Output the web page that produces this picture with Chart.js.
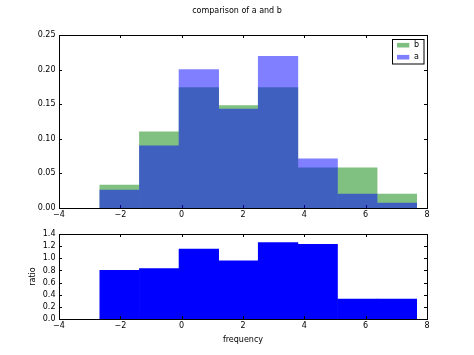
<!DOCTYPE html>
<html>
<head>
<meta charset="utf-8">
<script src="https://cdn.jsdelivr.net/npm/chart.js@4/dist/chart.umd.min.js"></script>
<style>
  html, body { margin: 0; padding: 0; background: #fff; }
  #wrap { position: relative; width: 474px; height: 355px; overflow: hidden; }
  canvas { position: absolute; left: 0; }
  #c1 { top: 0; }
  #c1a { top: 0; opacity: 0.5; pointer-events: none; }
  #c2 { top: 225px; }
</style>
</head>
<body>
<div id="wrap">
  <canvas id="c1" width="474" height="225"></canvas>
  <canvas id="c1a" width="474" height="225"></canvas>
  <canvas id="c2" width="474" height="130"></canvas>
</div>
<script>
// ---- data ----
const chartTitle = 'comparison of a and b';
const binEdges = [-2.669, -1.377, -0.086, 1.206, 2.497, 3.789, 5.081, 6.372, 7.664];
const seriesA = [0.026, 0.090, 0.200, 0.143, 0.219, 0.071, 0.020, 0.007];
const seriesB = [0.033, 0.110, 0.174, 0.148, 0.174, 0.058, 0.058, 0.020];
const ratioValues = [0.80, 0.83, 1.15, 0.96, 1.26, 1.23, 0.33, 0.33];
const xLabel = 'frequency';
const ratioLabel = 'ratio';
const xTickValues = [-4, -2, 0, 2, 4, 6, 8];
const yTickValuesTop = [0, 0.05, 0.10, 0.15, 0.20, 0.25];
const yTickValuesRatio = [0, 0.2, 0.4, 0.6, 0.8, 1.0, 1.2, 1.4];

// ---- helpers ----
const FONT = 'DejaVu Sans';
const binCenters = binEdges.slice(0, -1).map((e, i) => (e + binEdges[i + 1]) / 2);
const toPoints = vals => vals.map((v, i) => ({ x: binCenters[i], y: v }));
const fmtNum = (v, d) => {
  const s = Math.abs(v).toFixed(d);
  return (v < -1e-9 ? '\u2212' : '') + s;
};
// colours: alpha 0.5 green over white, and pure blue shown through a 50% opacity layer
const GREEN_HALF = 'rgb(128,192,128)';
const BLUE_HALF = 'rgba(0,0,255,0.5)';

const TICK_LEN = 3;
const framePlugin = {
  id: 'frameTicks',
  afterDatasetsDraw(chart) {
    const { ctx, chartArea: { left, right, top, bottom }, scales: { x, y } } = chart;
    ctx.save();
    ctx.strokeStyle = '#000';
    ctx.lineWidth = 1;
    ctx.beginPath();
    x.ticks.forEach(t => {
      const px = Math.round(x.getPixelForValue(t.value)) + 0.5;
      ctx.moveTo(px, bottom); ctx.lineTo(px, bottom - TICK_LEN);
      ctx.moveTo(px, top); ctx.lineTo(px, top + TICK_LEN);
    });
    y.ticks.forEach(t => {
      const py = Math.round(y.getPixelForValue(t.value)) + 0.5;
      ctx.moveTo(left, py); ctx.lineTo(left + TICK_LEN, py);
      ctx.moveTo(right, py); ctx.lineTo(right - TICK_LEN, py);
    });
    ctx.stroke();
    ctx.strokeRect(Math.round(left) + 0.5, Math.round(top) + 0.5,
                   Math.round(right) - Math.round(left), Math.round(bottom) - Math.round(top));
    ctx.restore();
  }
};

const titlePlugin = {
  id: 'figTitle',
  afterDraw(chart) {
    const ctx = chart.ctx;
    ctx.save();
    ctx.fillStyle = '#000';
    ctx.font = '8px "' + FONT + '"';
    ctx.textAlign = 'center';
    ctx.textBaseline = 'middle';
    ctx.fillText(chartTitle, 237, 11);
    ctx.restore();
  }
};

const legendPlugin = {
  id: 'boxLegend',
  afterDraw(chart) {
    const ctx = chart.ctx;
    const ds = chart.data.datasets;
    ctx.save();
    ctx.fillStyle = '#fff';
    ctx.fillRect(393, 40, 31, 24);
    ctx.strokeStyle = '#000';
    ctx.lineWidth = 1;
    ctx.strokeRect(392.5, 39.5, 31.5, 24.5);
    ctx.font = '8px "' + FONT + '"';
    ctx.textAlign = 'left';
    ctx.textBaseline = 'middle';
    ds.forEach((d, i) => {
      const yc = 45.2 + i * 12;
      ctx.fillStyle = d.legendColor;
      ctx.fillRect(397, yc - 2.3, 12.3, 4.6);
      ctx.fillStyle = '#000';
      ctx.fillText(d.label, 414, yc);
    });
    ctx.restore();
  }
};

const tickFont = { family: FONT, size: 8 };
const setTicks = vals => s => { s.ticks = vals.map(v => ({ value: v })); };

function topOptions(showText) {
  const col = showText ? '#000' : 'rgba(0,0,0,0)';
  return {
    responsive: false,
    devicePixelRatio: 1,
    animation: false,
    layout: { padding: { left: 0, right: 47, top: 35, bottom: 0 } },
    datasets: { bar: { grouped: false, barPercentage: 1, categoryPercentage: 1, borderWidth: 0 } },
    plugins: { legend: { display: false }, title: { display: false }, tooltip: { enabled: false } },
    scales: {
      x: {
        type: 'linear', min: -4, max: 8, offset: false,
        afterBuildTicks: setTicks(xTickValues),
        ticks: { font: tickFont, color: col, padding: 2, maxRotation: 0, autoSkip: false,
                 callback: v => fmtNum(v, 0) },
        grid: { display: false, drawTicks: false, offset: false },
        border: { display: false },
        afterFit: s => { s.height = 17; }
      },
      y: {
        min: 0, max: 0.25,
        afterBuildTicks: setTicks(yTickValuesTop),
        ticks: { font: tickFont, color: col, padding: 3.5, autoSkip: false,
                 callback: v => fmtNum(v, 2) },
        grid: { display: false, drawTicks: false },
        border: { display: false },
        afterFit: s => { s.width = 59; }
      }
    }
  };
}

// ---- top histogram: base layer (axes, b, legend, title) ----
new Chart(document.getElementById('c1'), {
  type: 'bar',
  data: {
    datasets: [
      { label: 'b', data: toPoints(seriesB), backgroundColor: GREEN_HALF, legendColor: 'rgba(0,128,0,0.5)' },
      { label: 'a', data: toPoints(seriesA), backgroundColor: '#0000ff', legendColor: BLUE_HALF, hidden: true }
    ]
  },
  options: topOptions(true),
  plugins: [framePlugin, titlePlugin, legendPlugin]
});

// ---- top histogram: series a, drawn on a 50% opacity layer above ----
new Chart(document.getElementById('c1a'), {
  type: 'bar',
  data: {
    datasets: [
      { label: 'a', data: toPoints(seriesA), backgroundColor: '#0000ff' }
    ]
  },
  options: topOptions(false)
});

// ---- bottom ratio ----
new Chart(document.getElementById('c2'), {
  type: 'bar',
  data: {
    datasets: [
      { label: 'ratio', data: toPoints(ratioValues), backgroundColor: '#0000ff' }
    ]
  },
  options: {
    responsive: false,
    devicePixelRatio: 1,
    animation: false,
    layout: { padding: { left: 0, right: 47, top: 9, bottom: 0 } },
    datasets: { bar: { barPercentage: 1, categoryPercentage: 1, borderWidth: 0 } },
    plugins: { legend: { display: false }, title: { display: false }, tooltip: { enabled: false } },
    scales: {
      x: {
        type: 'linear', min: -4, max: 8, offset: false,
        afterBuildTicks: setTicks(xTickValues),
        ticks: { font: tickFont, color: '#000', padding: 2.5, maxRotation: 0, autoSkip: false,
                 callback: v => fmtNum(v, 0) },
        grid: { display: false, drawTicks: false, offset: false },
        border: { display: false },
        title: { display: true, text: xLabel, color: '#000', font: { family: FONT, size: 8 },
                 padding: { top: 0, bottom: 10 } },
        afterFit: s => { s.height = 36; }
      },
      y: {
        min: 0, max: 1.4,
        afterBuildTicks: setTicks(yTickValuesRatio),
        ticks: { font: tickFont, color: '#000', padding: 3.5, autoSkip: false,
                 callback: v => fmtNum(v, 1) },
        grid: { display: false, drawTicks: false },
        border: { display: false },
        title: { display: true, text: ratioLabel, color: '#000', font: { family: FONT, size: 8 },
                 padding: { top: 28.5, bottom: 0 } },
        afterFit: s => { s.width = 59; }
      }
    }
  },
  plugins: [framePlugin]
});
</script>
</body>
</html>
